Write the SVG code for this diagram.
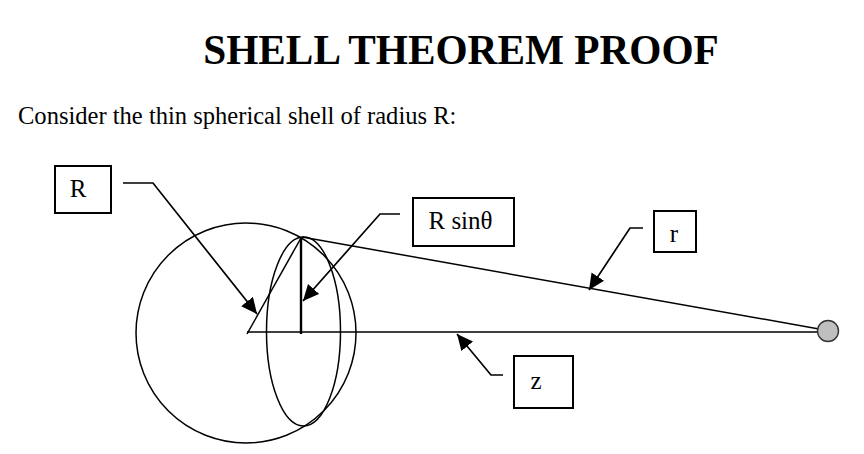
<svg xmlns="http://www.w3.org/2000/svg" width="864" height="454" viewBox="0 0 864 454">
<style>
text{font-family:"Liberation Serif","Times New Roman",serif;fill:#000}
.b{fill:#fff;stroke:#000;stroke-width:2}
.l{fill:none;stroke:#000;stroke-width:1.5}
.c{fill:none;stroke:#000;stroke-width:1.7}
.t{font-size:25px;text-anchor:middle}
</style>
<defs><marker id="a" markerUnits="userSpaceOnUse" markerWidth="18" markerHeight="16" refX="16" refY="7.5" orient="auto"><path d="M0 0L16 7.5L0 15z" fill="#000"/></marker></defs>
<rect width="864" height="454" fill="#fff"/>
<text x="461" y="64" font-size="41.3" font-weight="bold" text-anchor="middle">SHELL THEOREM PROOF</text>
<text x="18" y="124" font-size="24.55">Consider the thin spherical shell of radius R:</text>
<g id="shell">
<circle class="l" cx="246" cy="333" r="110"/>
<ellipse class="l" cx="303.5" cy="331.5" rx="37" ry="94.5"/>
<path class="l" d="M247 334L301 238"/>
<path d="M301 238V334" fill="none" stroke="#000" stroke-width="2.4"/>
<path class="l" d="M247 332H818M302 237L819 329"/>
</g>
<g id="point"><circle cx="828" cy="331" r="10.5" fill="#bfbfbf" stroke="#333" stroke-width="1.4"/></g>
<g id="connectors">
<path class="c" marker-end="url(#a)" d="M123 183H153L257 314"/>
<path class="c" marker-end="url(#a)" d="M400 214H380L303 301"/>
<path class="c" marker-end="url(#a)" d="M643 228H630L589 290"/>
<path class="c" marker-end="url(#a)" d="M503 375H491L457 334"/>
</g>
<g id="box-R"><rect class="b" x="55" y="166" width="56" height="47"/><text class="t" x="78" y="197">R</text></g>
<g id="box-Rsin"><rect class="b" x="413" y="198" width="101" height="48"/><text class="t" x="460.500" y="229">R sinθ</text></g>
<g id="box-r"><rect class="b" x="654" y="211" width="42" height="41"/><text class="t" x="674" y="242">r</text></g>
<g id="box-z"><rect class="b" x="514" y="356" width="59" height="52"/><text class="t" x="536" y="389">z</text></g>
</svg>
